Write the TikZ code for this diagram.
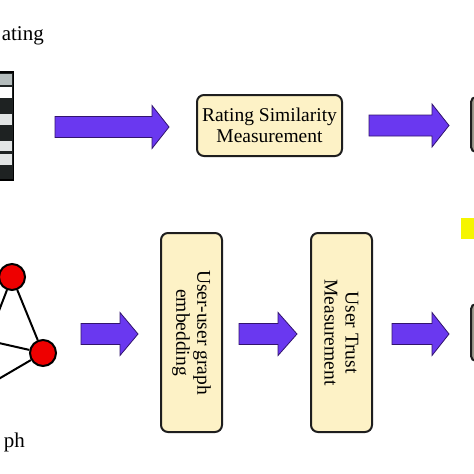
\documentclass[tikz,border=0pt]{standalone}
\usepackage{fontspec}
\setmainfont{Liberation Serif}
\definecolor{arrowfill}{RGB}{106,56,240}
\definecolor{arrowline}{RGB}{50,20,110}
\definecolor{boxfill}{RGB}{253,242,198}
\definecolor{boxline}{RGB}{30,30,30}
\definecolor{grayfill}{RGB}{158,155,142}
\definecolor{nodered}{RGB}{238,0,0}
\definecolor{hl}{RGB}{245,245,0}
\definecolor{celldark}{RGB}{30,34,34}
\definecolor{cellgray}{RGB}{180,188,188}
\definecolor{celllight}{RGB}{226,229,229}
\newcommand\BigArrow[4]{%
  \draw[blockarrow] (#1,{#4-10.5}) -- (#2,{#4-10.5}) -- (#2,{#4-21.5}) -- (#3,#4)
    -- (#2,{#4+21.5}) -- (#2,{#4+10.5}) -- (#1,{#4+10.5}) -- cycle;}
\begin{document}
\begin{tikzpicture}[x=1pt,y=-1pt,
  blockarrow/.style={fill=arrowfill,draw=arrowline,line width=0.8pt,line join=miter},
  procbox/.style={draw=boxline,fill=boxfill,line width=2pt,rounded corners=7pt,
    inner sep=0pt,align=center,font=\fontsize{19.5}{21}\selectfont},
  endbox/.style={draw=boxline,fill=grayfill,line width=2pt,rounded corners=5pt,inner sep=0pt},
  usernode/.style={circle,draw=black,fill=nodered,line width=2pt,minimum size=26pt,inner sep=0pt},
  edge/.style={draw=black,line width=2pt},
  cell/.style={draw=black,line width=1.6pt},
  label/.style={font=\fontsize{21}{24}\selectfont,inner sep=0pt}]
\useasboundingbox (0,0) rectangle (474,474);
\clip (0,0) rectangle (474,474);
\fill[white] (0,0) rectangle (474,474);

% labels
\node[label,anchor=base east] (lrating) at (44,40) {ating};
\node[label,anchor=base east] (lgraph) at (25,447) {ph};

% rating matrix column
\fill[celldark] (-5,72) rectangle (13.5,180);
\fill[cellgray] (-5,73.5) rectangle (12,84.5);
\fill[white] (-5,86.5) rectangle (12,97.5);
\fill[celllight] (-5,113.5) rectangle (12,124.5);
\fill[celllight] (-5,140.5) rectangle (12,151);
\fill[celllight] (-5,153.5) rectangle (12,164.5);
\draw[cell] (-5,72) rectangle (13.5,180);

% user graph
\node[usernode] (u1) at (12,277) {};
\node[usernode] (u2) at (43,353) {};
\coordinate (g1) at (-5,321);
\coordinate (g2) at (-10,341);
\coordinate (g3) at (-10,384);
\draw[edge] (u1) -- (g1);
\draw[edge] (u1) -- (u2);
\draw[edge] (g2) -- (u2);
\draw[edge] (u2) -- (g3);

% processing boxes
\node[procbox,minimum width=145pt,minimum height=61pt] (rsm) at (269.5,125.5)
  {Rating Similarity\\Measurement};
\node[procbox,rotate=-90,minimum width=199pt,minimum height=61pt] (emb) at (191.5,332.5)
  {User-user graph\\embedding};
\node[procbox,rotate=-90,minimum width=199pt,minimum height=61pt] (utm) at (341.5,332.5)
  {User Trust\\Measurement};

% output boxes (cut off at right)
\node[endbox,minimum width=60pt,minimum height=55pt] (out1) at (501,124.5) {};
\node[endbox,minimum width=60pt,minimum height=57pt] (out2) at (501,332.5) {};
\fill[hl] (461,218) rectangle (480,239);

% big arrows
\BigArrow{55}{152}{169}{127}
\BigArrow{369}{432}{449}{125.5}
\BigArrow{81}{120}{138}{334}
\BigArrow{239}{278}{297}{334}
\BigArrow{392}{432}{449}{334}
\end{tikzpicture}
\end{document}
